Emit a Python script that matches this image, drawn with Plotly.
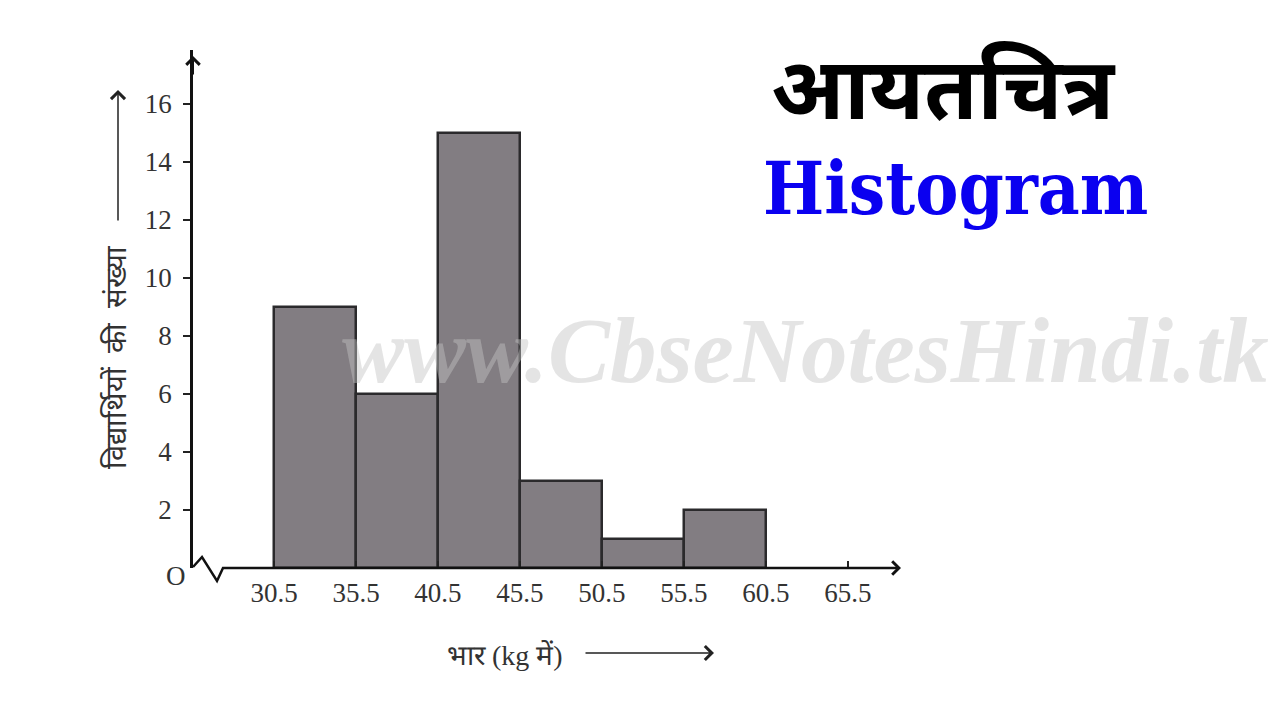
import plotly.graph_objects as go

# weight classes (kg) and number of students
bin_edges = [30.5, 35.5, 40.5, 45.5, 50.5, 55.5, 60.5]
frequency = [9, 6, 15, 3, 1, 2]
x_ticks = [30.5, 35.5, 40.5, 45.5, 50.5, 55.5, 60.5, 65.5]
y_ticks = [2, 4, 6, 8, 10, 12, 14, 16]

title_hi = "आयतचित्र"
title_en = "Histogram"
x_title = "भार (kg में)"
y_title = "विद्यार्थियों  की  संख्या"
watermark = "www.CbseNotesHindi.tk"

W, H = 1280, 720
L, T = 185, 42
PW, PH = 712, 518
R, B = W - L - PW, H - T - PH
X_RANGE = [25.56, 68.98]
Y_RANGE = [0, 17.86]
SERIF = "Liberation Serif, Times New Roman, serif"
INK = "#111"


def fx(p):
    # reference pixel column -> paper x (decorations only)
    return (p - 193) / PW


def fy(p):
    return (568 - p) / PH


def label(x, y, text, font, **kw):
    fig.add_annotation(x=fx(x), y=fy(y), xref="paper", yref="paper", text=text,
                       showarrow=False, xanchor="center", yanchor="middle",
                       font=font, **kw)


def arrow(x, y, ax, ay, size=1.3, width=2, color=INK):
    fig.add_annotation(x=fx(x), y=fy(y), ax=ax, ay=ay, xref="paper", yref="paper",
                       showarrow=True, arrowhead=4, arrowsize=size,
                       arrowwidth=width, arrowcolor=color, text="")


fig = go.Figure()
fig.add_trace(go.Bar(
    x=bin_edges[:-1],
    y=frequency,
    width=[b - a for a, b in zip(bin_edges[:-1], bin_edges[1:])],
    offset=0,
    marker=dict(color="#827d82", line=dict(color="#2b2a2c", width=2.5)),
    hoverinfo="skip",
))

fig.update_layout(
    width=W, height=H,
    margin=dict(l=L, r=R, t=T, b=B),
    plot_bgcolor="white", paper_bgcolor="white",
    showlegend=False,
    bargap=0,
    xaxis=dict(
        range=X_RANGE, showgrid=False, zeroline=False, showline=False,
        tickvals=x_ticks, ticktext=[f"{v:.1f}" for v in x_ticks],
        ticks="inside", ticklen=7, tickwidth=2, tickcolor="#222",
        ticklabelstandoff=6,
        tickfont=dict(family=SERIF, size=27, color="#333"),
    ),
    yaxis=dict(
        range=Y_RANGE, showgrid=False, zeroline=False,
        showline=True, linecolor=INK, linewidth=2.5,
        tickvals=y_ticks, ticktext=[str(v) for v in y_ticks],
        ticks="outside", ticklen=7, tickwidth=2, tickcolor="#222",
        ticklabelstandoff=6,
        tickfont=dict(family=SERIF, size=27, color="#333"),
    ),
)

# x axis with the break (zigzag) near the origin
zig = [(193, 567), (202, 557), (217, 581), (223, 568), (898, 568)]
path = "M " + " L ".join(f"{fx(a)},{fy(b)}" for a, b in zig)
fig.add_shape(type="path", path=path, xref="paper", yref="paper",
              line=dict(color=INK, width=2.5))

# arrow heads on the axes
arrow(901, 568, -20, 0)
arrow(193, 56, 0, 20)

# origin label
label(176, 576, "O", dict(family=SERIF, size=27, color="#333"))

# axis titles with their arrows
label(116, 358, y_title, dict(family=SERIF, size=29, color="#333"), textangle=-90)
arrow(118, 90, 0, 132, size=1.8, width=1.5, color="#222")
label(505, 655, x_title, dict(family=SERIF, size=28, color="#333"))
arrow(714, 653, -130, 0, size=1.8, width=1.5, color="#222")

# titles
label(943, 86, f"<b>{title_hi}</b>",
      dict(family="Noto Sans, sans-serif", size=86, color="black"))
label(955, 188, f"<b>{title_en}</b>",
      dict(family="DejaVu Serif Condensed, DejaVu Serif, serif", size=72,
           color="#0a00f0"))

# watermark over the plot
label(805, 350, f"<b><i>{watermark}</i></b>",
      dict(family=SERIF, size=93, color="rgba(195,195,195,0.45)"))

fig.write_html("out.html")
